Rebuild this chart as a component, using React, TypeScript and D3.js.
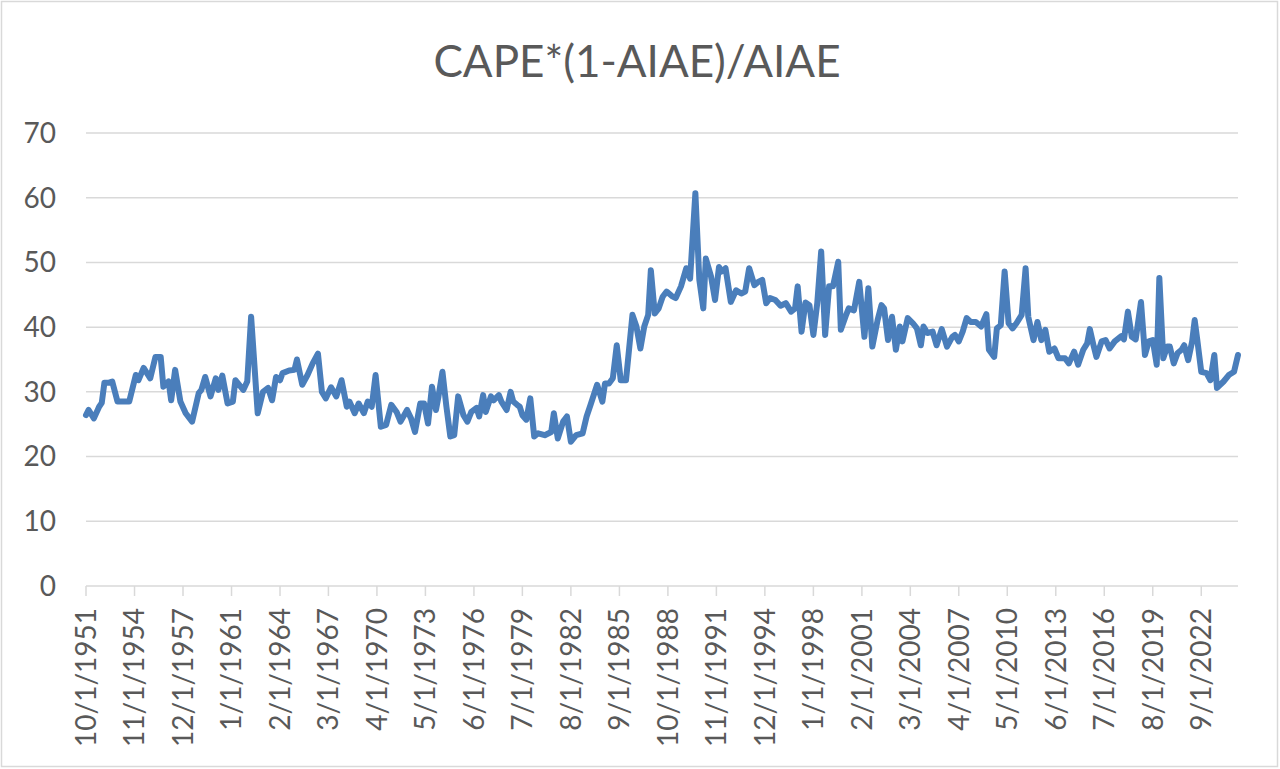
import React from 'react';
import * as d3 from 'd3';

const TITLE = 'CAPE*(1-AIAE)/AIAE';
const START_YEAR = 1951;
const START_MONTH = 10;
const END_MONTH_OFFSET = 879;

// observation dates, as months after 10/1951
const monthsSinceStart = [
  0, 2, 6, 10, 12, 14, 17, 20, 24, 33, 38, 40, 44, 49, 53, 57, 59, 63, 65, 68,
  72, 76, 81, 86, 88, 91, 95, 99, 101, 104, 108, 112, 114, 120, 123, 126, 131, 135, 139, 142,
  145, 148, 150, 155, 159, 161, 165, 169, 173, 177, 180, 183, 187, 191, 195, 199, 201, 205, 208, 212,
  215, 218, 221, 225, 229, 233, 237, 240, 245, 248, 251, 255, 258, 261, 264, 267, 269, 272, 275, 278,
  281, 284, 288, 291, 294, 298, 300, 303, 305, 309, 311, 315, 317, 321, 324, 326, 329, 331, 333, 336,
  339, 342, 345, 350, 355, 357, 360, 364, 367, 370, 374, 379, 382, 385, 390, 394, 396, 399, 402, 405,
  408, 412, 417, 420, 423, 426, 429, 431, 434, 437, 440, 443, 447, 450, 454, 458, 461, 465, 468, 471,
  473, 477, 480, 483, 485, 488, 492, 496, 500, 503, 506, 510, 513, 516, 519, 522, 526, 530, 534, 538,
  541, 543, 546, 549, 552, 555, 558, 561, 564, 567, 570, 574, 576, 580, 582, 586, 590, 594, 597, 600,
  604, 607, 609, 612, 615, 618, 621, 623, 627, 631, 634, 637, 639, 642, 646, 649, 653, 657, 661, 663,
  666, 669, 672, 675, 679, 683, 687, 689, 693, 695, 698, 701, 704, 707, 710, 714, 717, 719, 723, 726,
  729, 732, 735, 739, 742, 747, 750, 754, 757, 761, 764, 766, 769, 771, 775, 778, 781, 785, 790, 792,
  795, 798, 801, 805, 808, 811, 814, 817, 819, 822, 825, 827, 830, 833, 836, 838, 841, 844, 846, 848,
  851, 855, 858, 861, 863, 868, 872, 876, 879,
];

const values = [
  26.4, 27.2, 25.9, 27.7, 28.3, 31.4, 31.4, 31.6, 28.5, 28.5, 32.6, 31.8, 33.7, 32.1, 35.4, 35.4, 30.8, 31.6, 28.7, 33.4,
  28.5, 26.7, 25.4, 29.8, 30.3, 32.3, 29.3, 32.1, 30.3, 32.5, 28.2, 28.5, 31.8, 30.3, 31.6, 41.6, 26.7, 30.0, 30.6, 28.7,
  32.3, 31.8, 32.9, 33.3, 33.4, 35.0, 31.1, 32.6, 34.4, 35.9, 30.0, 29.0, 30.7, 29.3, 31.8, 27.7, 28.5, 26.7, 28.2, 26.7,
  28.5, 27.7, 32.6, 24.6, 24.9, 28.0, 26.9, 25.4, 27.2, 25.9, 23.8, 28.2, 28.2, 25.1, 30.8, 27.2, 29.3, 33.1, 27.7, 23.1,
  23.3, 29.3, 26.4, 25.4, 26.9, 27.5, 26.2, 29.5, 26.9, 29.3, 28.7, 29.5, 28.5, 27.2, 30.0, 28.5, 28.0, 27.7, 26.4, 25.7,
  29.0, 23.1, 23.6, 23.3, 23.8, 26.7, 22.8, 25.4, 26.2, 22.3, 23.3, 23.6, 26.2, 28.0, 31.1, 28.5, 31.3, 31.3, 32.1, 37.2,
  31.8, 31.8, 41.9, 40.1, 36.7, 40.1, 41.9, 48.8, 42.1, 42.9, 44.7, 45.5, 44.8, 44.5, 46.3, 49.1, 47.5, 60.7, 47.3, 42.9,
  50.6, 47.8, 44.2, 49.3, 48.6, 49.1, 43.9, 45.7, 45.2, 45.5, 49.1, 46.5, 47.0, 47.3, 43.7, 44.5, 44.2, 43.3, 43.7, 42.4,
  42.9, 46.3, 39.3, 43.8, 43.4, 38.8, 43.7, 51.7, 38.8, 46.3, 46.3, 50.1, 39.6, 41.9, 42.9, 42.6, 47.0, 38.5, 46.0, 37.0,
  41.1, 43.4, 42.9, 38.0, 41.6, 36.5, 40.1, 37.8, 41.4, 40.6, 39.8, 37.2, 40.1, 39.1, 39.3, 37.2, 39.7, 37.0, 38.5, 38.8,
  37.8, 39.3, 41.4, 40.8, 40.8, 40.1, 42.0, 36.5, 35.4, 39.8, 40.3, 48.6, 40.6, 39.8, 40.6, 41.9, 49.1, 41.6, 38.0, 40.8,
  38.0, 39.6, 36.2, 36.7, 35.2, 35.2, 34.4, 36.2, 34.2, 36.5, 37.5, 39.7, 37.0, 35.4, 37.8, 38.0, 36.7, 37.8, 38.6, 38.1,
  42.4, 38.5, 38.1, 43.9, 35.7, 37.8, 38.0, 34.2, 47.6, 35.2, 37.0, 37.0, 34.4, 36.0, 36.5, 37.2, 34.9, 37.8, 41.1, 38.0,
  33.1, 32.9, 31.8, 35.7, 30.6, 31.6, 32.6, 33.1, 35.7,
];

const yTicks = [0, 10, 20, 30, 40, 50, 60, 70];

const xTickLabels = [
  '10/1/1951', '11/1/1954', '12/1/1957', '1/1/1961', '2/1/1964', '3/1/1967',
  '4/1/1970', '5/1/1973', '6/1/1976', '7/1/1979', '8/1/1982', '9/1/1985',
  '10/1/1988', '11/1/1991', '12/1/1994', '1/1/1998', '2/1/2001', '3/1/2004',
  '4/1/2007', '5/1/2010', '6/1/2013', '7/1/2016', '8/1/2019', '9/1/2022',
];

const W = 1280;
const H = 769;
const PLOT = { left: 86, right: 1238, top: 133, bottom: 586 };
const FONT = 'Lato, "Open Sans", sans-serif';
const TEXT = '#595959';
const GRID = '#d9d9d9';
const LINE = '#4a7ebb';

export default function App() {
  const toDate = (m: number) => new Date(START_YEAR, START_MONTH - 1 + m, 1);
  const x = d3
    .scaleTime()
    .domain([toDate(0), toDate(END_MONTH_OFFSET)])
    .range([PLOT.left, PLOT.right]);
  const y = d3.scaleLinear().domain([0, 70]).range([PLOT.bottom, PLOT.top]);
  const parse = d3.timeParse('%m/%d/%Y');

  const pts = monthsSinceStart.map((m, i) => ({ d: toDate(m), v: values[i] }));
  const line = d3
    .line<{ d: Date; v: number }>()
    .x((p) => x(p.d))
    .y((p) => y(p.v));

  return (
    <div style={{ position: 'absolute', left: 0, top: 0 }}>
      <svg width={W} height={H} style={{ display: 'block' }}>
        <rect x={0} y={0} width={W} height={H} fill="#ffffff" />
        <rect x={1.5} y={1.5} width={1276} height={765} fill="none" stroke={GRID} strokeWidth={1.5} />
        <text
          x={637}
          y={77}
          textAnchor="middle"
          fontFamily={FONT}
          fontSize={44}
          fill={TEXT}
        >
          {TITLE}
        </text>
        {yTicks.map((t) => (
          <g key={t}>
            {t > 0 && (
              <line
                x1={PLOT.left}
                x2={PLOT.right}
                y1={y(t)}
                y2={y(t)}
                stroke={GRID}
                strokeWidth={1.5}
              />
            )}
            <text
              x={56}
              y={y(t)}
              dy="0.35em"
              textAnchor="end"
              fontFamily={FONT}
              fontSize={28}
              fill={TEXT}
            >
              {t}
            </text>
          </g>
        ))}
        <line
          x1={PLOT.left}
          x2={PLOT.right}
          y1={y(0)}
          y2={y(0)}
          stroke={GRID}
          strokeWidth={1.5}
        />
        {xTickLabels.map((lab) => {
          const px = x(parse(lab) as Date);
          return (
            <g key={lab}>
              <line x1={px} x2={px} y1={y(0)} y2={y(0) + 10} stroke={GRID} strokeWidth={1.5} />
              <text
                transform={`translate(${px},608) rotate(-90)`}
                textAnchor="end"
                dy="0.35em"
                fontFamily={FONT}
                fontSize={28}
                fill={TEXT}
              >
                {lab}
              </text>
            </g>
          );
        })}
        <path
          d={line(pts) || ''}
          fill="none"
          stroke={LINE}
          strokeWidth={6}
          strokeLinejoin="round"
          strokeLinecap="round"
        />
      </svg>
    </div>
  );
}
